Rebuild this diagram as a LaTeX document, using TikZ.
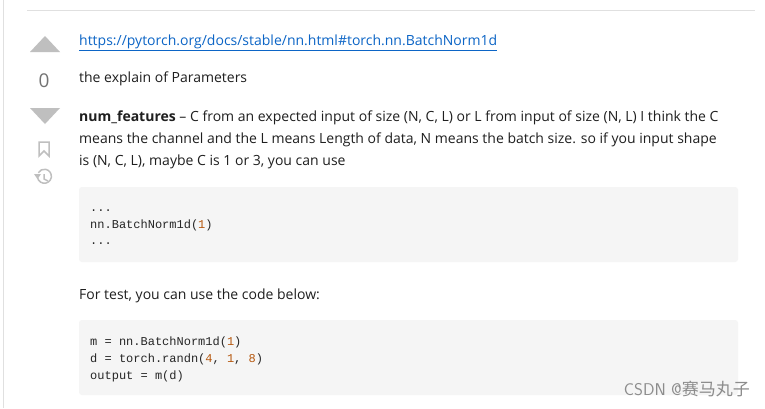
\documentclass[tikz,border=0pt]{standalone}
\usepackage{fontspec}
\setmainfont{Open Sans}
\setmonofont{Liberation Mono}
\newfontfamily\cjk{Noto Sans CJK SC}
\begin{document}
\begin{tikzpicture}[x=1pt,y=-1pt,
  txt/.style={anchor=base west,inner sep=0pt,font=\fontsize{14}{17}\selectfont,text=black!88},
  code/.style={anchor=base west,inner sep=0pt,font=\ttfamily\fontsize{12}{14}\selectfont,text=black!85},
  box/.style={fill=black!4,rounded corners=3pt,draw=none},
  icon/.style={fill=black!25,draw=none}]
\useasboundingbox (0,0) rectangle (765,408);
\fill[white] (0,0) rectangle (765,408);
\definecolor{linkc}{HTML}{0C65C6}
\definecolor{numc}{HTML}{B5560C}
\draw[black!12,line width=1pt] (27,10) -- (755,10);
\draw[black!12,line width=1pt] (3,0) -- (3,408);
% vote
\fill[icon] (30,52) -- (45,36) -- (60,52) -- cycle;
\node[txt,anchor=center,text=black!55,font=\fontsize{19}{20}\selectfont] (score) at (44,81) {0};
\fill[icon] (30,108) -- (45,124) -- (60,108) -- cycle;
\draw[black!25,line width=1.5pt] (39,142) -- (39,156) -- (44,151) -- (49,156) -- (49,142) -- cycle;
\draw[black!25,line width=1.5pt] (37.5,175) arc (190:-150:7);
\draw[black!25,line width=1.5pt] (44,174) -- (44,179) -- (48,181);
\fill[black!25] (34,174) -- (41,174) -- (37.5,179) -- cycle;
% text
\node[txt,text=linkc] (link) at (79,45) {\underline{https://pytorch.org/docs/stable/nn.html\#torch.nn.BatchNorm1d}};
\node[txt] (t1) at (79,82) {the explain of Parameters};
\node[txt] (t2) at (79,121) {\textbf{num\_features} – C from an expected input of size (N, C, L) or L from input of size (N, L) I think the C};
\node[txt] (t3) at (79,143) {means the channel and the L means Length of data, N means the batch size. so if you input shape};
\node[txt] (t4) at (79,165) {is (N, C, L), maybe C is 1 or 3, you can use};
\fill[box] (79,187) rectangle (738,262);
\node[code] (c1) at (90,211) {...};
\node[code] (c2) at (90,228) {nn.BatchNorm1d(\textcolor{numc}{1})};
\node[code] (c3) at (90,244) {...};
\node[txt] (t5) at (79,299) {For test, you can use the code below:};
\fill[box] (79,320) rectangle (738,395);
\node[code] (d1) at (90,345) {m = nn.BatchNorm1d(\textcolor{numc}{1})};
\node[code] (d2) at (90,362) {d = torch.randn(\textcolor{numc}{4}, \textcolor{numc}{1}, \textcolor{numc}{8})};
\node[code] (d3) at (90,379) {output = m(d)};
\node[anchor=base east,inner sep=0pt,text=black!45,font=\sffamily\fontsize{17}{18}\selectfont] (wm) at (750,395) {CSDN @{\cjk 赛马丸子}};
\end{tikzpicture}
\end{document}
